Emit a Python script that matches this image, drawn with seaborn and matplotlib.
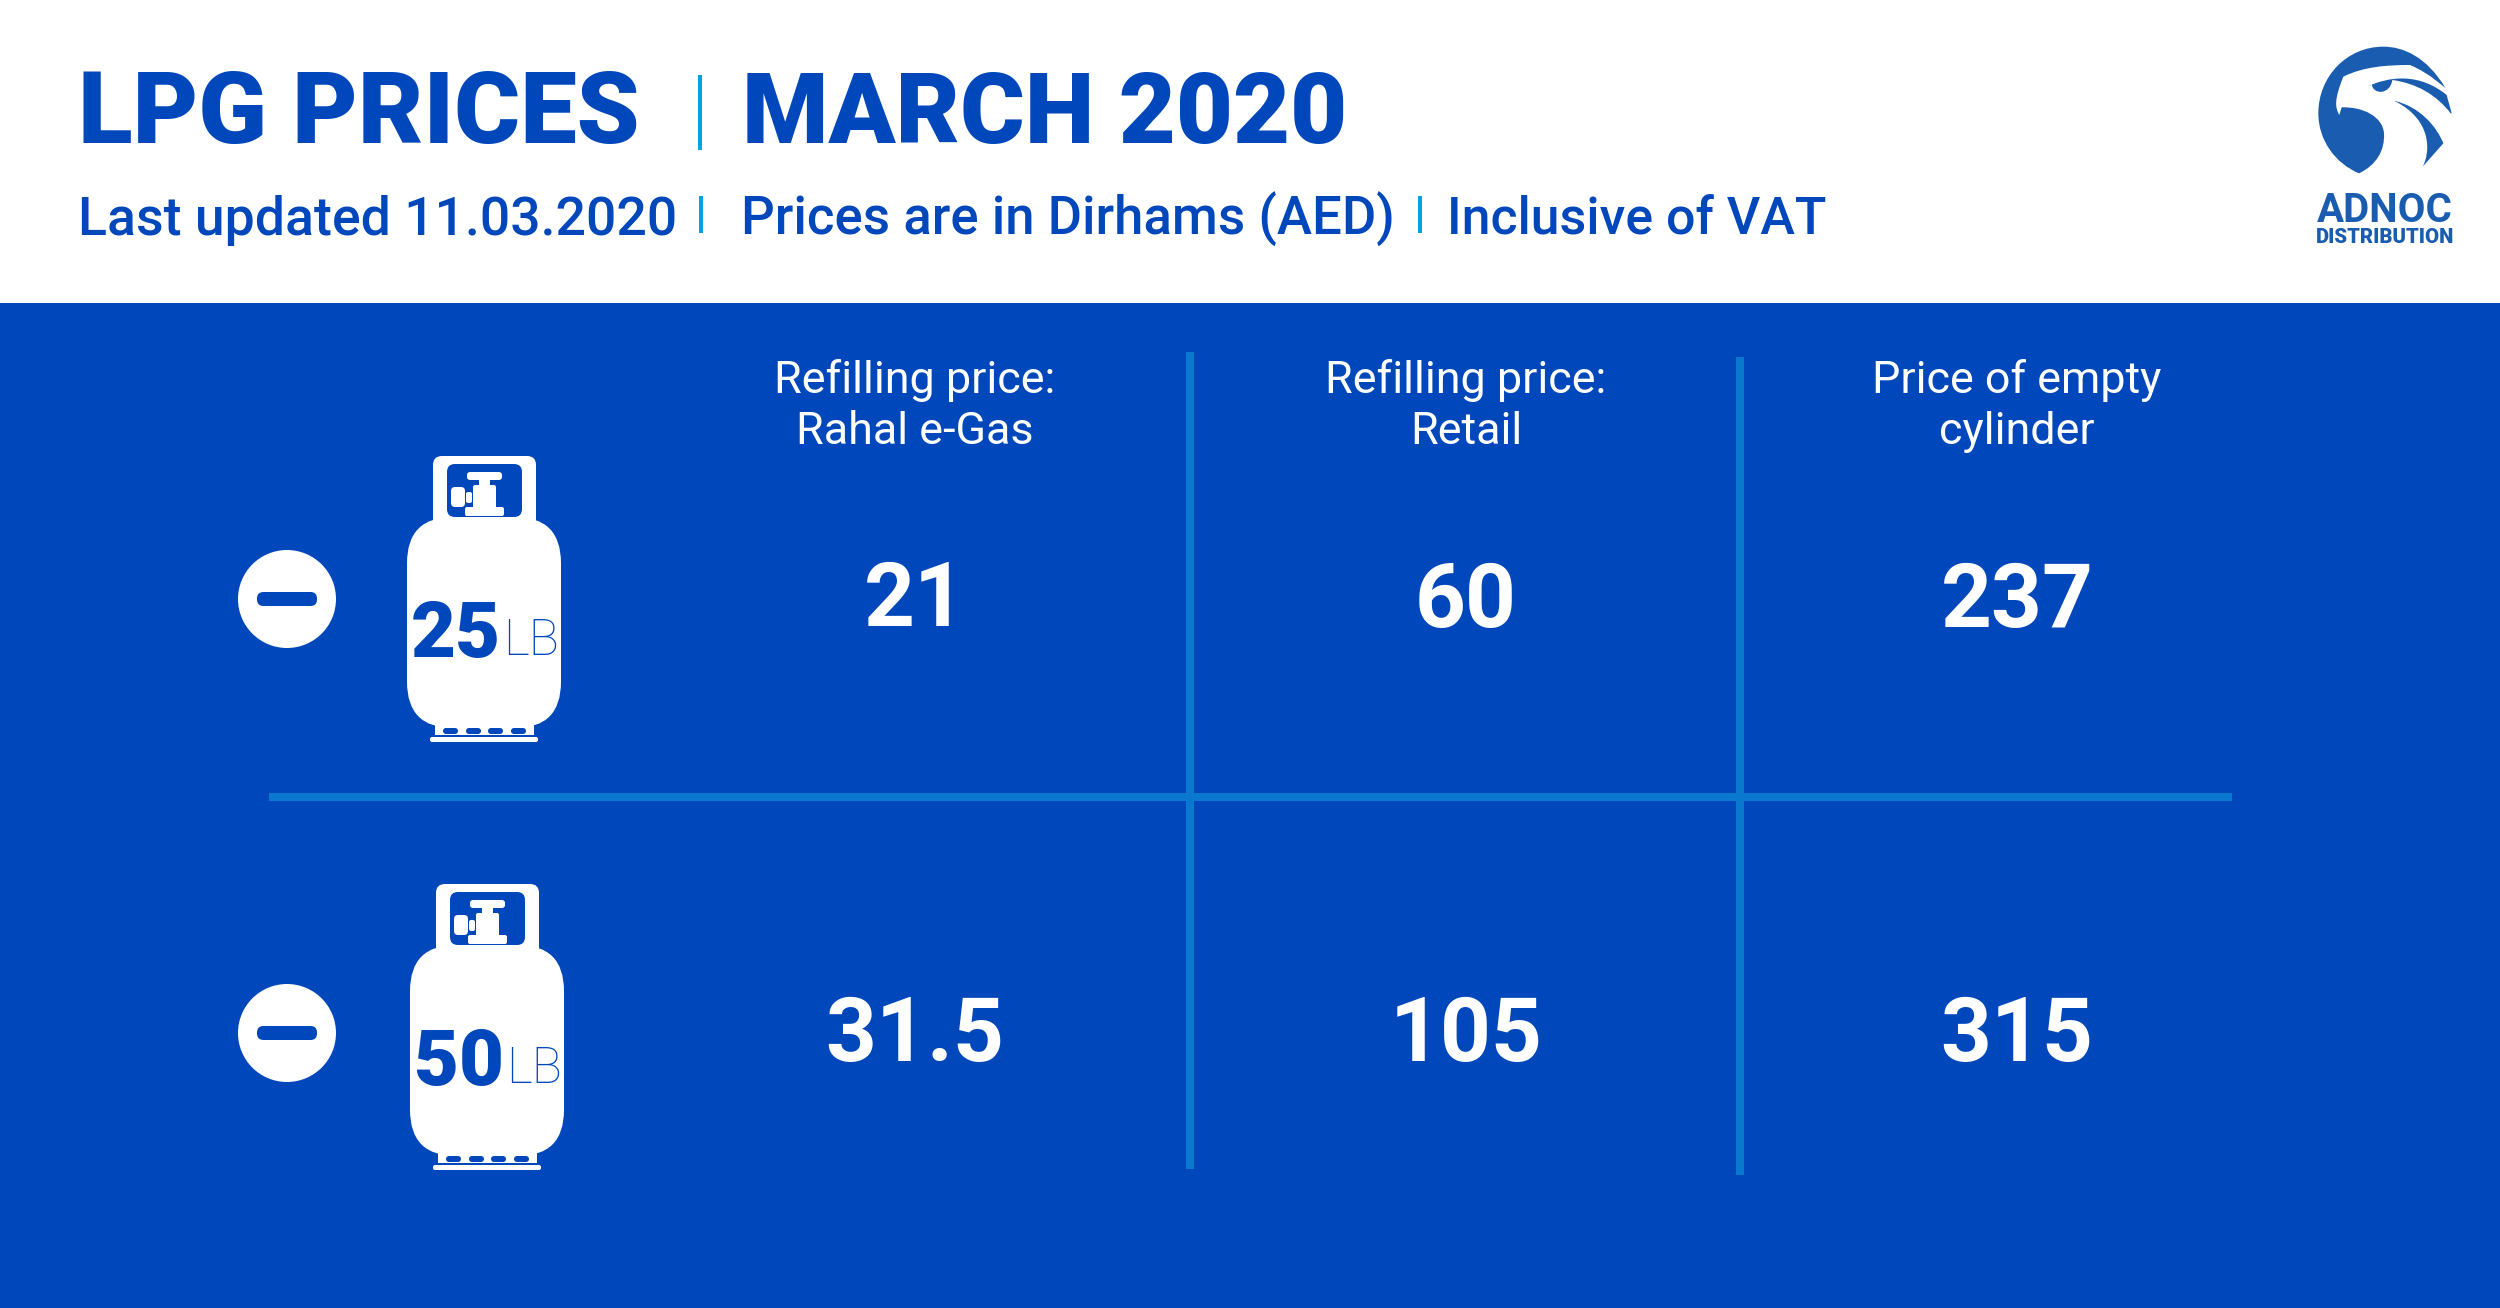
import numpy as np
import pandas as pd
import seaborn as sns
import matplotlib
matplotlib.use("Agg")
import matplotlib.pyplot as plt
from matplotlib.colors import ListedColormap
from matplotlib.patches import Circle, FancyBboxPatch, PathPatch, Rectangle
from matplotlib.path import Path

sns.set_theme(style="white")
plt.rcParams["font.family"] = ["Roboto", "DejaVu Sans"]

# chart data
cylinders = ["25", "50"]
columns = ["Refilling price:\nRahal e-Gas", "Refilling price:\nRetail", "Price of empty\ncylinder"]
rahal_prices = [21, 31.5]
retail_prices = [60, 105]
empty_prices = [237, 315]

title_left = "LPG PRICES"
title_right = "MARCH 2020"
sub_texts = ["Last updated 11.03.2020", "Prices are in Dirhams (AED)", "Inclusive of VAT"]

BLUE = "#0047BB"
LINE = "#0A78CF"
SEP = "#00A3E0"
LOGO = "#1A5CB0"
W, H = 2500, 1308


def box(x0, y0, x1, y1):
    return [x0 / W, 1 - y1 / H, (x1 - x0) / W, (y1 - y0) / H]


def rbox(ax, x0, y0, x1, y1, r, color):
    ax.add_patch(FancyBboxPatch((x0, y0), x1 - x0, y1 - y0, boxstyle=f"round,pad=0,rounding_size={r}",
                                fc=color, ec="none"))


def cylinder(ax, dx, dy, label):
    # handle, body and foot
    rbox(ax, 433 + dx, 456 + dy, 536 + dx, 530 + dy, 9, "white")
    rbox(ax, 447 + dx, 464 + dy, 522 + dx, 517 + dy, 8, BLUE)
    rbox(ax, 407 + dx, 517 + dy, 561 + dx, 728 + dy, 46, "white")
    ax.add_patch(Rectangle((435 + dx, 725 + dy), 99, 10, fc="white", ec="none"))
    rbox(ax, 430 + dx, 737 + dy, 538 + dx, 742 + dy, 2, "white")
    for x in [443, 466, 488, 511]:
        rbox(ax, x + dx, 728 + dy, x + 15 + dx, 734 + dy, 3, BLUE)
    # valve
    rbox(ax, 467 + dx, 472 + dy, 502 + dx, 480 + dy, 3, "white")
    ax.add_patch(Rectangle((479 + dx, 480 + dy), 11, 6, fc="white", ec="none"))
    rbox(ax, 473 + dx, 485 + dy, 496 + dx, 509 + dy, 2, "white")
    rbox(ax, 465 + dx, 507 + dy, 504 + dx, 516 + dy, 2, "white")
    rbox(ax, 451 + dx, 487 + dy, 465 + dx, 507 + dy, 4, "white")
    rbox(ax, 466 + dx, 492 + dy, 472 + dx, 503 + dy, 2, "white")
    ax.text(411 + dx, 657 + dy, label, color=BLUE, fontsize=56, fontweight="black", va="baseline", ha="left")
    ax.text(503 + dx, 655 + dy, "LB", color=BLUE, fontsize=36, fontweight="light", va="baseline", ha="left")


def minus(ax, x, y):
    ax.add_patch(Circle((x, y), 49, fc="white", ec="none"))
    rbox(ax, x - 30, y - 7, x + 30, y + 7, 6.5, BLUE)


def logo(ax):
    def pts(p):
        return [(2260 + a / 3, 20 + b / 3) for a, b in p]
    C = Path.CURVE4
    L = Path.LINETO
    M = Path.MOVETO
    head = pts([(557, 205), (500, 110), (430, 80), (370, 80), (260, 80), (175, 170), (175, 280),
                (175, 360), (225, 430), (297, 460), (350, 435), (375, 390), (372, 340),
                (368, 290), (310, 260), (245, 262), (238, 285), (225, 262), (222, 240),
                (250, 170), (310, 140), (380, 135), (450, 135), (510, 160), (557, 205), (557, 205)])
    hc = [M, C, C, C, C, C, C, C, C, C, C, C, C, C, C, C, L, C, C, C, C, C, C, C, C, Path.CLOSEPOLY]
    ax.add_patch(PathPatch(Path(head, hc), fc=LOGO, ec="none"))
    stripe = pts([(310, 205), (390, 165), (480, 160), (560, 225), (575, 280), (575, 280), (572, 280),
                  (530, 225), (470, 190), (397, 180), (390, 225), (340, 225), (335, 193), (310, 205)])
    sc = [M, C, C, C, L, L, L, C, C, C, C, C, C, Path.CLOSEPOLY]
    ax.add_patch(PathPatch(Path(stripe, sc), fc=LOGO, ec="none"))
    beak = pts([(402, 242), (480, 260), (530, 320), (550, 370), (488, 440), (510, 400), (520, 300), (402, 242), (402, 242)])
    bc = [M, C, C, C, L, C, C, C, Path.CLOSEPOLY]
    ax.add_patch(PathPatch(Path(beak, bc), fc=LOGO, ec="none"))
    ax.text(2385, 222, "ADNOC", color=LOGO, fontsize=29, fontweight="bold", ha="center", va="baseline")
    ax.text(2385, 243, "DISTRIBUTION", color=LOGO, fontsize=14.6, fontweight="black", ha="center", va="baseline")


fig = plt.figure(figsize=(W / 100, H / 100), dpi=100, facecolor="white")

panel = fig.add_axes(box(0, 303, W, H), facecolor=BLUE)
panel.set_axis_off()
panel.add_patch(Rectangle((0, 0), 1, 1, transform=panel.transAxes, fc=BLUE, ec="none"))

# price table
prices = pd.DataFrame({"rahal": rahal_prices, "retail": retail_prices, "empty": empty_prices}, index=cylinders)
tab = fig.add_axes(box(639.5, 384.5, 2292.5, 1254.5))
sns.heatmap(prices, annot=True, fmt="g", cmap=ListedColormap([BLUE]), cbar=False, xticklabels=False,
            yticklabels=False, ax=tab, annot_kws={"color": "white", "fontsize": 64, "fontweight": "bold"})
for j, name in enumerate(columns):
    tab.text(j + 0.5, 0.05, name, color="white", fontsize=32.3, ha="center", va="center", linespacing=1.27)

px = fig.add_axes([0, 0, 1, 1], facecolor="none")
px.set_xlim(0, W)
px.set_ylim(H, 0)
px.set_axis_off()

# header
px.text(78, 143, title_left, color=BLUE, fontsize=72.5, fontweight="black", va="baseline", ha="left")
px.text(742, 143, title_right, color=BLUE, fontsize=71, fontweight="black", va="baseline", ha="left")
px.add_patch(Rectangle((698, 75), 4, 75, fc=SEP, ec="none"))
for x, y, t, fs in zip([78, 741, 1447], [235, 235, 234], sub_texts, [38.5, 38, 37.4]):
    px.text(x, y, t, color=BLUE, fontsize=fs, fontweight="medium", va="baseline", ha="left")
for x in [699, 1418]:
    px.add_patch(Rectangle((x, 196), 4, 37, fc=SEP, ec="none"))

# grid lines
px.add_patch(Rectangle((1186, 352), 8, 817, fc=LINE, ec="none"))
px.add_patch(Rectangle((1736, 357), 8, 818, fc=LINE, ec="none"))
px.add_patch(Rectangle((269, 793), 1963, 8, fc=LINE, ec="none"))

minus(px, 287, 599)
minus(px, 287, 1033)
cylinder(px, 0, 0, cylinders[0])
cylinder(px, 3, 428, cylinders[1])
logo(px)

fig.savefig("out.png", dpi=100, facecolor="white")
